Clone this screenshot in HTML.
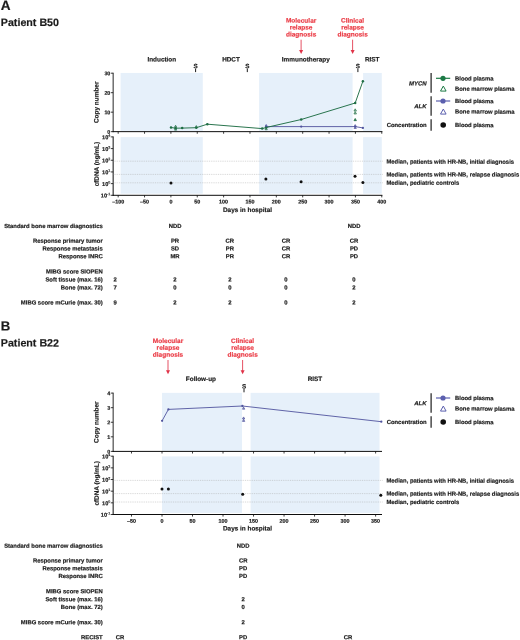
<!DOCTYPE html>
<html><head><meta charset="utf-8"><title>Figure</title>
<style>html,body{margin:0;padding:0;background:#fff}svg{display:block;filter:blur(0.3px)}</style></head>
<body>
<svg width="520" height="640" viewBox="0 0 520 640" font-family="'Liberation Sans', sans-serif" font-weight="bold">
<style>text{stroke-width:0.18px;paint-order:stroke}</style>
<rect width="520" height="640" fill="#fff"/>
<text transform="translate(0.7 10.1) rotate(0.03)" font-size="13.6" fill="#1a1a1a" stroke="#1a1a1a">A</text>
<text transform="translate(0.8 26.0) rotate(0.03)" font-size="10.7" fill="#1a1a1a" stroke="#1a1a1a">Patient B50</text>
<rect x="120.60" y="72.95" width="82.20" height="58.20" fill="#e6f0fa"/>
<rect x="120.60" y="137.10" width="82.20" height="56.60" fill="#e6f0fa"/>
<rect x="259.10" y="72.95" width="93.50" height="58.20" fill="#e6f0fa"/>
<rect x="259.10" y="137.10" width="93.50" height="56.60" fill="#e6f0fa"/>
<rect x="363.10" y="72.95" width="18.70" height="58.20" fill="#e6f0fa"/>
<rect x="363.10" y="137.10" width="18.70" height="56.60" fill="#e6f0fa"/>
<line x1="113.15" y1="72.75" x2="113.15" y2="132.15" stroke="#0d0d0d" stroke-width="0.9"/>
<line x1="112.70" y1="131.65" x2="382.40" y2="131.65" stroke="#0d0d0d" stroke-width="1.0"/>
<line x1="110.75" y1="131.65" x2="113.15" y2="131.65" stroke="#0d0d0d" stroke-width="0.8"/>
<text transform="translate(110.35 133.77) rotate(0.03)" text-anchor="end" font-size="5.35" fill="#1a1a1a" stroke="#1a1a1a">0</text>
<line x1="110.75" y1="112.17" x2="113.15" y2="112.17" stroke="#0d0d0d" stroke-width="0.8"/>
<text transform="translate(110.35 114.28) rotate(0.03)" text-anchor="end" font-size="5.35" fill="#1a1a1a" stroke="#1a1a1a">10</text>
<line x1="110.75" y1="92.68" x2="113.15" y2="92.68" stroke="#0d0d0d" stroke-width="0.8"/>
<text transform="translate(110.35 94.80) rotate(0.03)" text-anchor="end" font-size="5.35" fill="#1a1a1a" stroke="#1a1a1a">20</text>
<line x1="110.75" y1="73.20" x2="113.15" y2="73.20" stroke="#0d0d0d" stroke-width="0.8"/>
<text transform="translate(110.35 75.32) rotate(0.03)" text-anchor="end" font-size="5.35" fill="#1a1a1a" stroke="#1a1a1a">30</text>
<line x1="118.18" y1="131.65" x2="118.18" y2="133.75" stroke="#0d0d0d" stroke-width="0.8"/>
<line x1="144.54" y1="131.65" x2="144.54" y2="133.75" stroke="#0d0d0d" stroke-width="0.8"/>
<line x1="170.90" y1="131.65" x2="170.90" y2="133.75" stroke="#0d0d0d" stroke-width="0.8"/>
<line x1="197.26" y1="131.65" x2="197.26" y2="133.75" stroke="#0d0d0d" stroke-width="0.8"/>
<line x1="223.62" y1="131.65" x2="223.62" y2="133.75" stroke="#0d0d0d" stroke-width="0.8"/>
<line x1="249.98" y1="131.65" x2="249.98" y2="133.75" stroke="#0d0d0d" stroke-width="0.8"/>
<line x1="276.34" y1="131.65" x2="276.34" y2="133.75" stroke="#0d0d0d" stroke-width="0.8"/>
<line x1="302.70" y1="131.65" x2="302.70" y2="133.75" stroke="#0d0d0d" stroke-width="0.8"/>
<line x1="329.06" y1="131.65" x2="329.06" y2="133.75" stroke="#0d0d0d" stroke-width="0.8"/>
<line x1="355.42" y1="131.65" x2="355.42" y2="133.75" stroke="#0d0d0d" stroke-width="0.8"/>
<line x1="381.78" y1="131.65" x2="381.78" y2="133.75" stroke="#0d0d0d" stroke-width="0.8"/>
<line x1="113.15" y1="136.45" x2="113.15" y2="195.80" stroke="#0d0d0d" stroke-width="1.0"/>
<line x1="112.70" y1="195.30" x2="382.40" y2="195.30" stroke="#0d0d0d" stroke-width="1.0"/>
<line x1="110.75" y1="195.30" x2="113.15" y2="195.30" stroke="#0d0d0d" stroke-width="0.8"/>
<text transform="translate(110.35 197.61) rotate(0.03)" text-anchor="end" font-size="5.6" fill="#1a1a1a" stroke="#1a1a1a">10<tspan font-size="3.7" dy="-2.4" stroke-width="0.05">-1</tspan></text>
<line x1="110.75" y1="183.62" x2="113.15" y2="183.62" stroke="#0d0d0d" stroke-width="0.8"/>
<text transform="translate(110.35 185.93) rotate(0.03)" text-anchor="end" font-size="5.6" fill="#1a1a1a" stroke="#1a1a1a">10<tspan font-size="3.7" dy="-2.4" stroke-width="0.05">0</tspan></text>
<line x1="110.75" y1="171.94" x2="113.15" y2="171.94" stroke="#0d0d0d" stroke-width="0.8"/>
<text transform="translate(110.35 174.25) rotate(0.03)" text-anchor="end" font-size="5.6" fill="#1a1a1a" stroke="#1a1a1a">10<tspan font-size="3.7" dy="-2.4" stroke-width="0.05">1</tspan></text>
<line x1="110.75" y1="160.26" x2="113.15" y2="160.26" stroke="#0d0d0d" stroke-width="0.8"/>
<text transform="translate(110.35 162.57) rotate(0.03)" text-anchor="end" font-size="5.6" fill="#1a1a1a" stroke="#1a1a1a">10<tspan font-size="3.7" dy="-2.4" stroke-width="0.05">2</tspan></text>
<line x1="110.75" y1="148.58" x2="113.15" y2="148.58" stroke="#0d0d0d" stroke-width="0.8"/>
<text transform="translate(110.35 150.89) rotate(0.03)" text-anchor="end" font-size="5.6" fill="#1a1a1a" stroke="#1a1a1a">10<tspan font-size="3.7" dy="-2.4" stroke-width="0.05">3</tspan></text>
<line x1="110.75" y1="136.90" x2="113.15" y2="136.90" stroke="#0d0d0d" stroke-width="0.8"/>
<text transform="translate(110.35 139.21) rotate(0.03)" text-anchor="end" font-size="5.6" fill="#1a1a1a" stroke="#1a1a1a">10<tspan font-size="3.7" dy="-2.4" stroke-width="0.05">4</tspan></text>
<line x1="118.18" y1="195.30" x2="118.18" y2="197.40" stroke="#0d0d0d" stroke-width="0.8"/>
<text transform="translate(118.18 203.43) rotate(0.03)" text-anchor="middle" font-size="5.4" fill="#1a1a1a" stroke="#1a1a1a">–100</text>
<line x1="144.54" y1="195.30" x2="144.54" y2="197.40" stroke="#0d0d0d" stroke-width="0.8"/>
<text transform="translate(144.54 203.43) rotate(0.03)" text-anchor="middle" font-size="5.4" fill="#1a1a1a" stroke="#1a1a1a">–50</text>
<line x1="170.90" y1="195.30" x2="170.90" y2="197.40" stroke="#0d0d0d" stroke-width="0.8"/>
<text transform="translate(170.90 203.43) rotate(0.03)" text-anchor="middle" font-size="5.4" fill="#1a1a1a" stroke="#1a1a1a">0</text>
<line x1="197.26" y1="195.30" x2="197.26" y2="197.40" stroke="#0d0d0d" stroke-width="0.8"/>
<text transform="translate(197.26 203.43) rotate(0.03)" text-anchor="middle" font-size="5.4" fill="#1a1a1a" stroke="#1a1a1a">50</text>
<line x1="223.62" y1="195.30" x2="223.62" y2="197.40" stroke="#0d0d0d" stroke-width="0.8"/>
<text transform="translate(223.62 203.43) rotate(0.03)" text-anchor="middle" font-size="5.4" fill="#1a1a1a" stroke="#1a1a1a">100</text>
<line x1="249.98" y1="195.30" x2="249.98" y2="197.40" stroke="#0d0d0d" stroke-width="0.8"/>
<text transform="translate(249.98 203.43) rotate(0.03)" text-anchor="middle" font-size="5.4" fill="#1a1a1a" stroke="#1a1a1a">150</text>
<line x1="276.34" y1="195.30" x2="276.34" y2="197.40" stroke="#0d0d0d" stroke-width="0.8"/>
<text transform="translate(276.34 203.43) rotate(0.03)" text-anchor="middle" font-size="5.4" fill="#1a1a1a" stroke="#1a1a1a">200</text>
<line x1="302.70" y1="195.30" x2="302.70" y2="197.40" stroke="#0d0d0d" stroke-width="0.8"/>
<text transform="translate(302.70 203.43) rotate(0.03)" text-anchor="middle" font-size="5.4" fill="#1a1a1a" stroke="#1a1a1a">250</text>
<line x1="329.06" y1="195.30" x2="329.06" y2="197.40" stroke="#0d0d0d" stroke-width="0.8"/>
<text transform="translate(329.06 203.43) rotate(0.03)" text-anchor="middle" font-size="5.4" fill="#1a1a1a" stroke="#1a1a1a">300</text>
<line x1="355.42" y1="195.30" x2="355.42" y2="197.40" stroke="#0d0d0d" stroke-width="0.8"/>
<text transform="translate(355.42 203.43) rotate(0.03)" text-anchor="middle" font-size="5.4" fill="#1a1a1a" stroke="#1a1a1a">350</text>
<line x1="381.78" y1="195.30" x2="381.78" y2="197.40" stroke="#0d0d0d" stroke-width="0.8"/>
<text transform="translate(381.78 203.43) rotate(0.03)" text-anchor="middle" font-size="5.4" fill="#1a1a1a" stroke="#1a1a1a">400</text>
<line x1="113.65" y1="161.20" x2="383.00" y2="161.20" stroke="#a8a8a8" stroke-width="0.5" stroke-dasharray="0.9 0.9"/>
<line x1="113.65" y1="174.40" x2="383.00" y2="174.40" stroke="#a8a8a8" stroke-width="0.5" stroke-dasharray="0.9 0.9"/>
<line x1="113.65" y1="182.80" x2="383.00" y2="182.80" stroke="#a8a8a8" stroke-width="0.5" stroke-dasharray="0.9 0.9"/>
<text transform="translate(386.40 163.61) rotate(0.03)" text-anchor="start" font-size="5.88" fill="#1a1a1a" stroke="#1a1a1a">Median, patients with HR-NB, initial diagnosis</text>
<text transform="translate(386.40 176.41) rotate(0.03)" text-anchor="start" font-size="5.88" fill="#1a1a1a" stroke="#1a1a1a">Median, patients with HR-NB, relapse diagnosis</text>
<text transform="translate(386.40 184.81) rotate(0.03)" text-anchor="start" font-size="5.88" fill="#1a1a1a" stroke="#1a1a1a">Median, pediatric controls</text>
<text transform="translate(98.60 102.33) rotate(-89.97)" text-anchor="middle" font-size="6.45" fill="#1a1a1a" stroke="#1a1a1a">Copy number</text>
<text transform="translate(98.80 164.10) rotate(-89.97)" text-anchor="middle" font-size="6.4" fill="#1a1a1a" stroke="#1a1a1a">cfDNA (ng/mL)</text>
<text transform="translate(247.50 211.99) rotate(0.03)" text-anchor="middle" font-size="6.4" fill="#1a1a1a" stroke="#1a1a1a">Days in hospital</text>
<text transform="translate(161.80 61.39) rotate(0.03)" text-anchor="middle" font-size="6.4" fill="#1a1a1a" stroke="#1a1a1a">Induction</text>
<text transform="translate(231.00 61.39) rotate(0.03)" text-anchor="middle" font-size="6.4" fill="#1a1a1a" stroke="#1a1a1a">HDCT</text>
<text transform="translate(305.80 61.39) rotate(0.03)" text-anchor="middle" font-size="6.4" fill="#1a1a1a" stroke="#1a1a1a">Immunotherapy</text>
<text transform="translate(372.20 61.39) rotate(0.03)" text-anchor="middle" font-size="6.4" fill="#1a1a1a" stroke="#1a1a1a">RIST</text>
<text transform="translate(195.60 68.26) rotate(0.03)" text-anchor="middle" font-size="6.3" fill="#1a1a1a" stroke="#1a1a1a">S</text>
<line x1="195.60" y1="68.70" x2="195.60" y2="72.10" stroke="#1a1a1a" stroke-width="1.0"/>
<text transform="translate(247.30 68.26) rotate(0.03)" text-anchor="middle" font-size="6.3" fill="#1a1a1a" stroke="#1a1a1a">S</text>
<line x1="247.30" y1="68.70" x2="247.30" y2="72.10" stroke="#1a1a1a" stroke-width="1.0"/>
<text transform="translate(357.90 68.26) rotate(0.03)" text-anchor="middle" font-size="6.3" fill="#1a1a1a" stroke="#1a1a1a">S</text>
<line x1="357.90" y1="68.70" x2="357.90" y2="72.10" stroke="#1a1a1a" stroke-width="1.0"/>
<text transform="translate(301.10 22.63) rotate(0.03)" text-anchor="middle" font-size="6.5" fill="#ea3a44" stroke="#ea3a44">Molecular</text>
<text transform="translate(301.10 29.55) rotate(0.03)" text-anchor="middle" font-size="6.5" fill="#ea3a44" stroke="#ea3a44">relapse</text>
<text transform="translate(301.10 36.47) rotate(0.03)" text-anchor="middle" font-size="6.5" fill="#ea3a44" stroke="#ea3a44">diagnosis</text>
<line x1="301.10" y1="39.70" x2="301.10" y2="51.90" stroke="#e03348" stroke-width="0.85"/>
<path d="M299.10 49.90L301.10 53.90L303.10 49.90Z" fill="#e03348"/>
<text transform="translate(352.60 22.63) rotate(0.03)" text-anchor="middle" font-size="6.5" fill="#ea3a44" stroke="#ea3a44">Clinical</text>
<text transform="translate(352.60 29.55) rotate(0.03)" text-anchor="middle" font-size="6.5" fill="#ea3a44" stroke="#ea3a44">relapse</text>
<text transform="translate(352.60 36.47) rotate(0.03)" text-anchor="middle" font-size="6.5" fill="#ea3a44" stroke="#ea3a44">diagnosis</text>
<line x1="352.60" y1="39.70" x2="352.60" y2="51.90" stroke="#e03348" stroke-width="0.85"/>
<path d="M350.60 49.90L352.60 53.90L354.60 49.90Z" fill="#e03348"/>
<polyline points="266.20,126.60 301.20,126.60 355.20,126.60 362.90,127.90" fill="none" stroke="#50549e" stroke-width="0.9"/>
<circle cx="266.20" cy="126.60" r="1.15" fill="#50549e"/>
<circle cx="301.20" cy="126.60" r="1.15" fill="#50549e"/>
<circle cx="355.20" cy="126.60" r="1.15" fill="#50549e"/>
<circle cx="362.90" cy="127.90" r="1.15" fill="#50549e"/>
<polyline points="171.00,127.50 175.60,128.20 182.20,128.10 196.30,127.70 207.30,124.20 262.20,128.60 266.20,127.50 301.20,119.50 355.20,103.00 362.90,81.20" fill="none" stroke="#1f6e45" stroke-width="0.95"/>
<circle cx="171.00" cy="127.50" r="1.25" fill="#1f6e45"/>
<circle cx="175.60" cy="128.20" r="1.25" fill="#1f6e45"/>
<circle cx="182.20" cy="128.10" r="1.25" fill="#1f6e45"/>
<circle cx="196.30" cy="127.70" r="1.25" fill="#1f6e45"/>
<circle cx="207.30" cy="124.20" r="1.25" fill="#1f6e45"/>
<circle cx="262.20" cy="128.60" r="1.25" fill="#1f6e45"/>
<circle cx="266.20" cy="127.50" r="1.25" fill="#1f6e45"/>
<circle cx="301.20" cy="119.50" r="1.25" fill="#1f6e45"/>
<circle cx="355.20" cy="103.00" r="1.25" fill="#1f6e45"/>
<circle cx="362.90" cy="81.20" r="1.25" fill="#1f6e45"/>
<path d="M174.50 127.23L176.70 127.23L175.60 125.25Z" fill="#1f6e45" fill-opacity="0.45" stroke="#1f6e45" stroke-width="0.7"/>
<path d="M174.50 130.13L176.70 130.13L175.60 128.16Z" fill="#1f6e45" fill-opacity="0.45" stroke="#1f6e45" stroke-width="0.7"/>
<path d="M195.20 127.53L197.40 127.53L196.30 125.55Z" fill="#1f6e45" fill-opacity="0.45" stroke="#1f6e45" stroke-width="0.7"/>
<path d="M265.10 129.74L267.30 129.74L266.20 127.76Z" fill="#1f6e45" fill-opacity="0.45" stroke="#1f6e45" stroke-width="0.7"/>
<path d="M353.95 111.06L356.45 111.06L355.20 108.81Z" fill="#1f6e45" fill-opacity="0.3" stroke="#1f6e45" stroke-width="0.7"/>
<path d="M353.95 113.96L356.45 113.96L355.20 111.71Z" fill="#1f6e45" fill-opacity="0.3" stroke="#1f6e45" stroke-width="0.7"/>
<path d="M353.95 120.66L356.45 120.66L355.20 118.41Z" fill="#1f6e45" fill-opacity="1" stroke="#1f6e45" stroke-width="0.7"/>
<path d="M354.10 126.53L356.30 126.53L355.20 124.55Z" fill="#50549e" fill-opacity="0.4" stroke="#50549e" stroke-width="0.7"/>
<path d="M354.10 128.53L356.30 128.53L355.20 126.55Z" fill="#50549e" fill-opacity="0.4" stroke="#50549e" stroke-width="0.7"/>
<path d="M265.20 126.25L267.20 126.25L266.20 124.45Z" fill="#50549e" fill-opacity="0.4" stroke="#50549e" stroke-width="0.7"/>
<circle cx="171.00" cy="183.00" r="1.5" fill="#111"/>
<circle cx="265.90" cy="179.00" r="1.5" fill="#111"/>
<circle cx="301.10" cy="181.70" r="1.5" fill="#111"/>
<circle cx="355.00" cy="176.20" r="1.5" fill="#111"/>
<circle cx="362.90" cy="182.50" r="1.5" fill="#111"/>
<text transform="translate(426.60 85.45) rotate(0.03)" text-anchor="end" font-size="6.0" font-style="italic" fill="#1a1a1a" stroke="#1a1a1a">MYCN</text>
<line x1="431.10" y1="73.00" x2="431.10" y2="92.70" stroke="#0a0a0a" stroke-width="1.1"/>
<line x1="436.00" y1="78.30" x2="450.20" y2="78.30" stroke="#1d7a46" stroke-width="1.2"/>
<circle cx="443.00" cy="78.30" r="2.6" fill="#1d7a46"/>
<text transform="translate(455.00 80.41) rotate(0.03)" text-anchor="start" font-size="5.9" fill="#1a1a1a" stroke="#1a1a1a">Blood plasma</text>
<path d="M440.50 91.08L446.10 91.08L443.30 86.04Z" fill="none" fill-opacity="1" stroke="#1d7a46" stroke-width="1.0"/>
<text transform="translate(455.00 90.76) rotate(0.03)" text-anchor="start" font-size="5.9" fill="#1a1a1a" stroke="#1a1a1a">Bone marrow plasma</text>
<text transform="translate(426.60 108.15) rotate(0.03)" text-anchor="end" font-size="6.0" font-style="italic" fill="#1a1a1a" stroke="#1a1a1a">ALK</text>
<line x1="431.10" y1="96.20" x2="431.10" y2="115.80" stroke="#0a0a0a" stroke-width="1.1"/>
<line x1="436.00" y1="101.00" x2="450.20" y2="101.00" stroke="#5b5fae" stroke-width="1.2"/>
<circle cx="443.00" cy="101.00" r="2.6" fill="#5b5fae"/>
<text transform="translate(455.00 103.11) rotate(0.03)" text-anchor="start" font-size="5.9" fill="#1a1a1a" stroke="#1a1a1a">Blood plasma</text>
<path d="M440.50 114.08L446.10 114.08L443.30 109.04Z" fill="none" fill-opacity="1" stroke="#5b5fae" stroke-width="1.0"/>
<text transform="translate(455.00 113.61) rotate(0.03)" text-anchor="start" font-size="5.9" fill="#1a1a1a" stroke="#1a1a1a">Bone marrow plasma</text>
<text transform="translate(426.60 127.11) rotate(0.03)" text-anchor="end" font-size="5.9" fill="#1a1a1a" stroke="#1a1a1a">Concentration</text>
<line x1="431.10" y1="119.30" x2="431.10" y2="130.70" stroke="#0a0a0a" stroke-width="1.1"/>
<circle cx="443.20" cy="125.00" r="2.8" fill="#111"/>
<text transform="translate(455.00 127.11) rotate(0.03)" text-anchor="start" font-size="5.9" fill="#1a1a1a" stroke="#1a1a1a">Blood plasma</text>
<text transform="translate(102.70 228.10) rotate(0.03)" text-anchor="end" font-size="5.9" fill="#1a1a1a" stroke="#1a1a1a">Standard bone marrow diagnostics</text>
<text transform="translate(102.70 242.85) rotate(0.03)" text-anchor="end" font-size="5.9" fill="#1a1a1a" stroke="#1a1a1a">Response primary tumor</text>
<text transform="translate(102.70 250.60) rotate(0.03)" text-anchor="end" font-size="5.9" fill="#1a1a1a" stroke="#1a1a1a">Response metastasis</text>
<text transform="translate(102.70 258.35) rotate(0.03)" text-anchor="end" font-size="5.9" fill="#1a1a1a" stroke="#1a1a1a">Response INRC</text>
<text transform="translate(102.70 273.60) rotate(0.03)" text-anchor="end" font-size="5.9" fill="#1a1a1a" stroke="#1a1a1a">MIBG score SIOPEN</text>
<text transform="translate(102.70 281.60) rotate(0.03)" text-anchor="end" font-size="5.9" fill="#1a1a1a" stroke="#1a1a1a">Soft tissue (max. 16)</text>
<text transform="translate(102.70 289.60) rotate(0.03)" text-anchor="end" font-size="5.9" fill="#1a1a1a" stroke="#1a1a1a">Bone (max. 72)</text>
<text transform="translate(102.70 304.60) rotate(0.03)" text-anchor="end" font-size="5.9" fill="#1a1a1a" stroke="#1a1a1a">MIBG score mCurie (max. 30)</text>
<text transform="translate(115.20 281.60) rotate(0.03)" text-anchor="middle" font-size="5.9" fill="#1a1a1a" stroke="#1a1a1a">2</text>
<text transform="translate(115.20 289.60) rotate(0.03)" text-anchor="middle" font-size="5.9" fill="#1a1a1a" stroke="#1a1a1a">7</text>
<text transform="translate(115.20 304.60) rotate(0.03)" text-anchor="middle" font-size="5.9" fill="#1a1a1a" stroke="#1a1a1a">9</text>
<text transform="translate(175.00 228.10) rotate(0.03)" text-anchor="middle" font-size="5.9" fill="#1a1a1a" stroke="#1a1a1a">NDD</text>
<text transform="translate(175.00 242.85) rotate(0.03)" text-anchor="middle" font-size="5.9" fill="#1a1a1a" stroke="#1a1a1a">PR</text>
<text transform="translate(175.00 250.60) rotate(0.03)" text-anchor="middle" font-size="5.9" fill="#1a1a1a" stroke="#1a1a1a">SD</text>
<text transform="translate(175.00 258.35) rotate(0.03)" text-anchor="middle" font-size="5.9" fill="#1a1a1a" stroke="#1a1a1a">MR</text>
<text transform="translate(175.00 281.60) rotate(0.03)" text-anchor="middle" font-size="5.9" fill="#1a1a1a" stroke="#1a1a1a">2</text>
<text transform="translate(175.00 289.60) rotate(0.03)" text-anchor="middle" font-size="5.9" fill="#1a1a1a" stroke="#1a1a1a">0</text>
<text transform="translate(175.00 304.60) rotate(0.03)" text-anchor="middle" font-size="5.9" fill="#1a1a1a" stroke="#1a1a1a">2</text>
<text transform="translate(229.80 242.85) rotate(0.03)" text-anchor="middle" font-size="5.9" fill="#1a1a1a" stroke="#1a1a1a">CR</text>
<text transform="translate(229.80 250.60) rotate(0.03)" text-anchor="middle" font-size="5.9" fill="#1a1a1a" stroke="#1a1a1a">PR</text>
<text transform="translate(229.80 258.35) rotate(0.03)" text-anchor="middle" font-size="5.9" fill="#1a1a1a" stroke="#1a1a1a">PR</text>
<text transform="translate(229.80 281.60) rotate(0.03)" text-anchor="middle" font-size="5.9" fill="#1a1a1a" stroke="#1a1a1a">2</text>
<text transform="translate(229.80 289.60) rotate(0.03)" text-anchor="middle" font-size="5.9" fill="#1a1a1a" stroke="#1a1a1a">0</text>
<text transform="translate(229.80 304.60) rotate(0.03)" text-anchor="middle" font-size="5.9" fill="#1a1a1a" stroke="#1a1a1a">2</text>
<text transform="translate(285.90 242.85) rotate(0.03)" text-anchor="middle" font-size="5.9" fill="#1a1a1a" stroke="#1a1a1a">CR</text>
<text transform="translate(285.90 250.60) rotate(0.03)" text-anchor="middle" font-size="5.9" fill="#1a1a1a" stroke="#1a1a1a">CR</text>
<text transform="translate(285.90 258.35) rotate(0.03)" text-anchor="middle" font-size="5.9" fill="#1a1a1a" stroke="#1a1a1a">CR</text>
<text transform="translate(285.90 281.60) rotate(0.03)" text-anchor="middle" font-size="5.9" fill="#1a1a1a" stroke="#1a1a1a">0</text>
<text transform="translate(285.90 289.60) rotate(0.03)" text-anchor="middle" font-size="5.9" fill="#1a1a1a" stroke="#1a1a1a">0</text>
<text transform="translate(285.90 304.60) rotate(0.03)" text-anchor="middle" font-size="5.9" fill="#1a1a1a" stroke="#1a1a1a">0</text>
<text transform="translate(354.00 228.10) rotate(0.03)" text-anchor="middle" font-size="5.9" fill="#1a1a1a" stroke="#1a1a1a">NDD</text>
<text transform="translate(354.00 242.85) rotate(0.03)" text-anchor="middle" font-size="5.9" fill="#1a1a1a" stroke="#1a1a1a">CR</text>
<text transform="translate(354.00 250.60) rotate(0.03)" text-anchor="middle" font-size="5.9" fill="#1a1a1a" stroke="#1a1a1a">PD</text>
<text transform="translate(354.00 258.35) rotate(0.03)" text-anchor="middle" font-size="5.9" fill="#1a1a1a" stroke="#1a1a1a">PD</text>
<text transform="translate(354.00 281.60) rotate(0.03)" text-anchor="middle" font-size="5.9" fill="#1a1a1a" stroke="#1a1a1a">0</text>
<text transform="translate(354.00 289.60) rotate(0.03)" text-anchor="middle" font-size="5.9" fill="#1a1a1a" stroke="#1a1a1a">2</text>
<text transform="translate(354.00 304.60) rotate(0.03)" text-anchor="middle" font-size="5.9" fill="#1a1a1a" stroke="#1a1a1a">2</text>
<text transform="translate(0.8 330.6) rotate(0.03)" font-size="13.2" fill="#1a1a1a" stroke="#1a1a1a">B</text>
<text transform="translate(0.8 346.6) rotate(0.03)" font-size="10.7" fill="#1a1a1a" stroke="#1a1a1a">Patient B22</text>
<rect x="162.00" y="392.85" width="80.00" height="58.05" fill="#e6f0fa"/>
<rect x="162.00" y="456.40" width="80.00" height="56.50" fill="#e6f0fa"/>
<rect x="250.60" y="392.85" width="128.90" height="58.05" fill="#e6f0fa"/>
<rect x="250.60" y="456.40" width="128.90" height="56.50" fill="#e6f0fa"/>
<line x1="113.15" y1="392.65" x2="113.15" y2="451.90" stroke="#0d0d0d" stroke-width="0.9"/>
<line x1="112.70" y1="451.40" x2="382.00" y2="451.40" stroke="#0d0d0d" stroke-width="1.0"/>
<line x1="110.75" y1="451.40" x2="113.15" y2="451.40" stroke="#0d0d0d" stroke-width="0.8"/>
<text transform="translate(110.35 453.52) rotate(0.03)" text-anchor="end" font-size="5.35" fill="#1a1a1a" stroke="#1a1a1a">0</text>
<line x1="110.75" y1="436.82" x2="113.15" y2="436.82" stroke="#0d0d0d" stroke-width="0.8"/>
<text transform="translate(110.35 438.94) rotate(0.03)" text-anchor="end" font-size="5.35" fill="#1a1a1a" stroke="#1a1a1a">1</text>
<line x1="110.75" y1="422.25" x2="113.15" y2="422.25" stroke="#0d0d0d" stroke-width="0.8"/>
<text transform="translate(110.35 424.37) rotate(0.03)" text-anchor="end" font-size="5.35" fill="#1a1a1a" stroke="#1a1a1a">2</text>
<line x1="110.75" y1="407.68" x2="113.15" y2="407.68" stroke="#0d0d0d" stroke-width="0.8"/>
<text transform="translate(110.35 409.79) rotate(0.03)" text-anchor="end" font-size="5.35" fill="#1a1a1a" stroke="#1a1a1a">3</text>
<line x1="110.75" y1="393.10" x2="113.15" y2="393.10" stroke="#0d0d0d" stroke-width="0.8"/>
<text transform="translate(110.35 395.22) rotate(0.03)" text-anchor="end" font-size="5.35" fill="#1a1a1a" stroke="#1a1a1a">4</text>
<line x1="131.49" y1="451.40" x2="131.49" y2="453.50" stroke="#0d0d0d" stroke-width="0.8"/>
<line x1="162.00" y1="451.40" x2="162.00" y2="453.50" stroke="#0d0d0d" stroke-width="0.8"/>
<line x1="192.51" y1="451.40" x2="192.51" y2="453.50" stroke="#0d0d0d" stroke-width="0.8"/>
<line x1="223.03" y1="451.40" x2="223.03" y2="453.50" stroke="#0d0d0d" stroke-width="0.8"/>
<line x1="253.54" y1="451.40" x2="253.54" y2="453.50" stroke="#0d0d0d" stroke-width="0.8"/>
<line x1="284.06" y1="451.40" x2="284.06" y2="453.50" stroke="#0d0d0d" stroke-width="0.8"/>
<line x1="314.57" y1="451.40" x2="314.57" y2="453.50" stroke="#0d0d0d" stroke-width="0.8"/>
<line x1="345.09" y1="451.40" x2="345.09" y2="453.50" stroke="#0d0d0d" stroke-width="0.8"/>
<line x1="375.61" y1="451.40" x2="375.61" y2="453.50" stroke="#0d0d0d" stroke-width="0.8"/>
<line x1="113.15" y1="455.75" x2="113.15" y2="515.00" stroke="#0d0d0d" stroke-width="1.0"/>
<line x1="112.70" y1="514.50" x2="382.00" y2="514.50" stroke="#0d0d0d" stroke-width="1.0"/>
<line x1="110.75" y1="514.50" x2="113.15" y2="514.50" stroke="#0d0d0d" stroke-width="0.8"/>
<text transform="translate(110.35 516.81) rotate(0.03)" text-anchor="end" font-size="5.6" fill="#1a1a1a" stroke="#1a1a1a">10<tspan font-size="3.7" dy="-2.4" stroke-width="0.05">-1</tspan></text>
<line x1="110.75" y1="502.84" x2="113.15" y2="502.84" stroke="#0d0d0d" stroke-width="0.8"/>
<text transform="translate(110.35 505.15) rotate(0.03)" text-anchor="end" font-size="5.6" fill="#1a1a1a" stroke="#1a1a1a">10<tspan font-size="3.7" dy="-2.4" stroke-width="0.05">0</tspan></text>
<line x1="110.75" y1="491.18" x2="113.15" y2="491.18" stroke="#0d0d0d" stroke-width="0.8"/>
<text transform="translate(110.35 493.49) rotate(0.03)" text-anchor="end" font-size="5.6" fill="#1a1a1a" stroke="#1a1a1a">10<tspan font-size="3.7" dy="-2.4" stroke-width="0.05">1</tspan></text>
<line x1="110.75" y1="479.52" x2="113.15" y2="479.52" stroke="#0d0d0d" stroke-width="0.8"/>
<text transform="translate(110.35 481.83) rotate(0.03)" text-anchor="end" font-size="5.6" fill="#1a1a1a" stroke="#1a1a1a">10<tspan font-size="3.7" dy="-2.4" stroke-width="0.05">2</tspan></text>
<line x1="110.75" y1="467.86" x2="113.15" y2="467.86" stroke="#0d0d0d" stroke-width="0.8"/>
<text transform="translate(110.35 470.17) rotate(0.03)" text-anchor="end" font-size="5.6" fill="#1a1a1a" stroke="#1a1a1a">10<tspan font-size="3.7" dy="-2.4" stroke-width="0.05">3</tspan></text>
<line x1="110.75" y1="456.20" x2="113.15" y2="456.20" stroke="#0d0d0d" stroke-width="0.8"/>
<text transform="translate(110.35 458.51) rotate(0.03)" text-anchor="end" font-size="5.6" fill="#1a1a1a" stroke="#1a1a1a">10<tspan font-size="3.7" dy="-2.4" stroke-width="0.05">4</tspan></text>
<line x1="131.49" y1="514.50" x2="131.49" y2="516.60" stroke="#0d0d0d" stroke-width="0.8"/>
<text transform="translate(131.49 522.83) rotate(0.03)" text-anchor="middle" font-size="5.4" fill="#1a1a1a" stroke="#1a1a1a">–50</text>
<line x1="162.00" y1="514.50" x2="162.00" y2="516.60" stroke="#0d0d0d" stroke-width="0.8"/>
<text transform="translate(162.00 522.83) rotate(0.03)" text-anchor="middle" font-size="5.4" fill="#1a1a1a" stroke="#1a1a1a">0</text>
<line x1="192.51" y1="514.50" x2="192.51" y2="516.60" stroke="#0d0d0d" stroke-width="0.8"/>
<text transform="translate(192.51 522.83) rotate(0.03)" text-anchor="middle" font-size="5.4" fill="#1a1a1a" stroke="#1a1a1a">50</text>
<line x1="223.03" y1="514.50" x2="223.03" y2="516.60" stroke="#0d0d0d" stroke-width="0.8"/>
<text transform="translate(223.03 522.83) rotate(0.03)" text-anchor="middle" font-size="5.4" fill="#1a1a1a" stroke="#1a1a1a">100</text>
<line x1="253.54" y1="514.50" x2="253.54" y2="516.60" stroke="#0d0d0d" stroke-width="0.8"/>
<text transform="translate(253.54 522.83) rotate(0.03)" text-anchor="middle" font-size="5.4" fill="#1a1a1a" stroke="#1a1a1a">150</text>
<line x1="284.06" y1="514.50" x2="284.06" y2="516.60" stroke="#0d0d0d" stroke-width="0.8"/>
<text transform="translate(284.06 522.83) rotate(0.03)" text-anchor="middle" font-size="5.4" fill="#1a1a1a" stroke="#1a1a1a">200</text>
<line x1="314.57" y1="514.50" x2="314.57" y2="516.60" stroke="#0d0d0d" stroke-width="0.8"/>
<text transform="translate(314.57 522.83) rotate(0.03)" text-anchor="middle" font-size="5.4" fill="#1a1a1a" stroke="#1a1a1a">250</text>
<line x1="345.09" y1="514.50" x2="345.09" y2="516.60" stroke="#0d0d0d" stroke-width="0.8"/>
<text transform="translate(345.09 522.83) rotate(0.03)" text-anchor="middle" font-size="5.4" fill="#1a1a1a" stroke="#1a1a1a">300</text>
<line x1="375.61" y1="514.50" x2="375.61" y2="516.60" stroke="#0d0d0d" stroke-width="0.8"/>
<text transform="translate(375.61 522.83) rotate(0.03)" text-anchor="middle" font-size="5.4" fill="#1a1a1a" stroke="#1a1a1a">350</text>
<line x1="113.65" y1="480.40" x2="382.60" y2="480.40" stroke="#a8a8a8" stroke-width="0.5" stroke-dasharray="0.9 0.9"/>
<line x1="113.65" y1="493.60" x2="382.60" y2="493.60" stroke="#a8a8a8" stroke-width="0.5" stroke-dasharray="0.9 0.9"/>
<line x1="113.65" y1="502.00" x2="382.60" y2="502.00" stroke="#a8a8a8" stroke-width="0.5" stroke-dasharray="0.9 0.9"/>
<text transform="translate(386.40 482.61) rotate(0.03)" text-anchor="start" font-size="5.88" fill="#1a1a1a" stroke="#1a1a1a">Median, patients with HR-NB, initial diagnosis</text>
<text transform="translate(386.40 495.61) rotate(0.03)" text-anchor="start" font-size="5.88" fill="#1a1a1a" stroke="#1a1a1a">Median, patients with HR-NB, relapse diagnosis</text>
<text transform="translate(386.40 504.01) rotate(0.03)" text-anchor="start" font-size="5.88" fill="#1a1a1a" stroke="#1a1a1a">Median, pediatric controls</text>
<text transform="translate(98.60 422.15) rotate(-89.97)" text-anchor="middle" font-size="6.45" fill="#1a1a1a" stroke="#1a1a1a">Copy number</text>
<text transform="translate(98.80 483.35) rotate(-89.97)" text-anchor="middle" font-size="6.4" fill="#1a1a1a" stroke="#1a1a1a">cfDNA (ng/mL)</text>
<text transform="translate(247.50 530.39) rotate(0.03)" text-anchor="middle" font-size="6.4" fill="#1a1a1a" stroke="#1a1a1a">Days in hospital</text>
<text transform="translate(200.90 380.99) rotate(0.03)" text-anchor="middle" font-size="6.4" fill="#1a1a1a" stroke="#1a1a1a">Follow-up</text>
<text transform="translate(315.00 380.99) rotate(0.03)" text-anchor="middle" font-size="6.4" fill="#1a1a1a" stroke="#1a1a1a">RIST</text>
<text transform="translate(244.00 388.46) rotate(0.03)" text-anchor="middle" font-size="6.3" fill="#1a1a1a" stroke="#1a1a1a">S</text>
<line x1="244.00" y1="388.90" x2="244.00" y2="392.30" stroke="#1a1a1a" stroke-width="1.0"/>
<text transform="translate(168.00 342.93) rotate(0.03)" text-anchor="middle" font-size="6.5" fill="#ea3a44" stroke="#ea3a44">Molecular</text>
<text transform="translate(168.00 349.85) rotate(0.03)" text-anchor="middle" font-size="6.5" fill="#ea3a44" stroke="#ea3a44">relapse</text>
<text transform="translate(168.00 356.77) rotate(0.03)" text-anchor="middle" font-size="6.5" fill="#ea3a44" stroke="#ea3a44">diagnosis</text>
<line x1="168.00" y1="360.00" x2="168.00" y2="372.20" stroke="#e03348" stroke-width="0.85"/>
<path d="M166.00 370.20L168.00 374.20L170.00 370.20Z" fill="#e03348"/>
<text transform="translate(242.60 342.93) rotate(0.03)" text-anchor="middle" font-size="6.5" fill="#ea3a44" stroke="#ea3a44">Clinical</text>
<text transform="translate(242.60 349.85) rotate(0.03)" text-anchor="middle" font-size="6.5" fill="#ea3a44" stroke="#ea3a44">relapse</text>
<text transform="translate(242.60 356.77) rotate(0.03)" text-anchor="middle" font-size="6.5" fill="#ea3a44" stroke="#ea3a44">diagnosis</text>
<line x1="242.60" y1="360.00" x2="242.60" y2="372.20" stroke="#e03348" stroke-width="0.85"/>
<path d="M240.60 370.20L242.60 374.20L244.60 370.20Z" fill="#e03348"/>
<polyline points="162.10,420.80 168.40,409.40 242.40,406.00 381.30,421.70" fill="none" stroke="#50549e" stroke-width="0.9"/>
<circle cx="162.10" cy="420.80" r="1.15" fill="#50549e"/>
<circle cx="168.40" cy="409.40" r="1.15" fill="#50549e"/>
<circle cx="242.40" cy="406.00" r="1.15" fill="#50549e"/>
<circle cx="381.30" cy="421.70" r="1.15" fill="#50549e"/>
<path d="M242.45 409.18L244.75 409.18L243.60 407.11Z" fill="#50549e" fill-opacity="0.55" stroke="#50549e" stroke-width="0.7"/>
<path d="M242.45 418.98L244.75 418.98L243.60 416.91Z" fill="#50549e" fill-opacity="0.55" stroke="#50549e" stroke-width="0.7"/>
<path d="M242.45 421.38L244.75 421.38L243.60 419.31Z" fill="#50549e" fill-opacity="0.55" stroke="#50549e" stroke-width="0.7"/>
<circle cx="162.00" cy="489.10" r="1.5" fill="#111"/>
<circle cx="168.40" cy="489.00" r="1.5" fill="#111"/>
<circle cx="242.70" cy="494.20" r="1.5" fill="#111"/>
<circle cx="380.80" cy="495.30" r="1.5" fill="#111"/>
<text transform="translate(426.60 405.15) rotate(0.03)" text-anchor="end" font-size="6.0" font-style="italic" fill="#1a1a1a" stroke="#1a1a1a">ALK</text>
<line x1="431.10" y1="393.20" x2="431.10" y2="412.80" stroke="#0a0a0a" stroke-width="1.1"/>
<line x1="436.00" y1="398.00" x2="450.20" y2="398.00" stroke="#5b5fae" stroke-width="1.2"/>
<circle cx="443.00" cy="398.00" r="2.6" fill="#5b5fae"/>
<text transform="translate(455.00 400.11) rotate(0.03)" text-anchor="start" font-size="5.9" fill="#1a1a1a" stroke="#1a1a1a">Blood plasma</text>
<path d="M440.50 411.08L446.10 411.08L443.30 406.04Z" fill="none" fill-opacity="1" stroke="#5b5fae" stroke-width="1.0"/>
<text transform="translate(455.00 410.61) rotate(0.03)" text-anchor="start" font-size="5.9" fill="#1a1a1a" stroke="#1a1a1a">Bone marrow plasma</text>
<text transform="translate(426.60 424.11) rotate(0.03)" text-anchor="end" font-size="5.9" fill="#1a1a1a" stroke="#1a1a1a">Concentration</text>
<line x1="431.10" y1="416.30" x2="431.10" y2="427.70" stroke="#0a0a0a" stroke-width="1.1"/>
<circle cx="443.20" cy="422.00" r="2.8" fill="#111"/>
<text transform="translate(455.00 424.11) rotate(0.03)" text-anchor="start" font-size="5.9" fill="#1a1a1a" stroke="#1a1a1a">Blood plasma</text>
<text transform="translate(102.70 547.85) rotate(0.03)" text-anchor="end" font-size="5.9" fill="#1a1a1a" stroke="#1a1a1a">Standard bone marrow diagnostics</text>
<text transform="translate(102.70 562.60) rotate(0.03)" text-anchor="end" font-size="5.9" fill="#1a1a1a" stroke="#1a1a1a">Response primary tumor</text>
<text transform="translate(102.70 570.35) rotate(0.03)" text-anchor="end" font-size="5.9" fill="#1a1a1a" stroke="#1a1a1a">Response metastasis</text>
<text transform="translate(102.70 578.10) rotate(0.03)" text-anchor="end" font-size="5.9" fill="#1a1a1a" stroke="#1a1a1a">Response INRC</text>
<text transform="translate(102.70 593.35) rotate(0.03)" text-anchor="end" font-size="5.9" fill="#1a1a1a" stroke="#1a1a1a">MIBG score SIOPEN</text>
<text transform="translate(102.70 601.35) rotate(0.03)" text-anchor="end" font-size="5.9" fill="#1a1a1a" stroke="#1a1a1a">Soft tissue (max. 16)</text>
<text transform="translate(102.70 609.10) rotate(0.03)" text-anchor="end" font-size="5.9" fill="#1a1a1a" stroke="#1a1a1a">Bone (max. 72)</text>
<text transform="translate(102.70 624.35) rotate(0.03)" text-anchor="end" font-size="5.9" fill="#1a1a1a" stroke="#1a1a1a">MIBG score mCurie (max. 30)</text>
<text transform="translate(243.20 547.85) rotate(0.03)" text-anchor="middle" font-size="5.9" fill="#1a1a1a" stroke="#1a1a1a">NDD</text>
<text transform="translate(243.20 562.60) rotate(0.03)" text-anchor="middle" font-size="5.9" fill="#1a1a1a" stroke="#1a1a1a">CR</text>
<text transform="translate(243.20 570.35) rotate(0.03)" text-anchor="middle" font-size="5.9" fill="#1a1a1a" stroke="#1a1a1a">PD</text>
<text transform="translate(243.20 578.10) rotate(0.03)" text-anchor="middle" font-size="5.9" fill="#1a1a1a" stroke="#1a1a1a">PD</text>
<text transform="translate(243.20 601.35) rotate(0.03)" text-anchor="middle" font-size="5.9" fill="#1a1a1a" stroke="#1a1a1a">2</text>
<text transform="translate(243.20 609.10) rotate(0.03)" text-anchor="middle" font-size="5.9" fill="#1a1a1a" stroke="#1a1a1a">0</text>
<text transform="translate(243.20 624.35) rotate(0.03)" text-anchor="middle" font-size="5.9" fill="#1a1a1a" stroke="#1a1a1a">2</text>
<text transform="translate(102.70 639.35) rotate(0.03)" text-anchor="end" font-size="5.9" fill="#1a1a1a" stroke="#1a1a1a">RECIST</text>
<text transform="translate(120.00 639.35) rotate(0.03)" text-anchor="middle" font-size="5.9" fill="#1a1a1a" stroke="#1a1a1a">CR</text>
<text transform="translate(243.20 639.35) rotate(0.03)" text-anchor="middle" font-size="5.9" fill="#1a1a1a" stroke="#1a1a1a">PD</text>
<text transform="translate(348.10 639.35) rotate(0.03)" text-anchor="middle" font-size="5.9" fill="#1a1a1a" stroke="#1a1a1a">CR</text>
</svg>
</body></html>
